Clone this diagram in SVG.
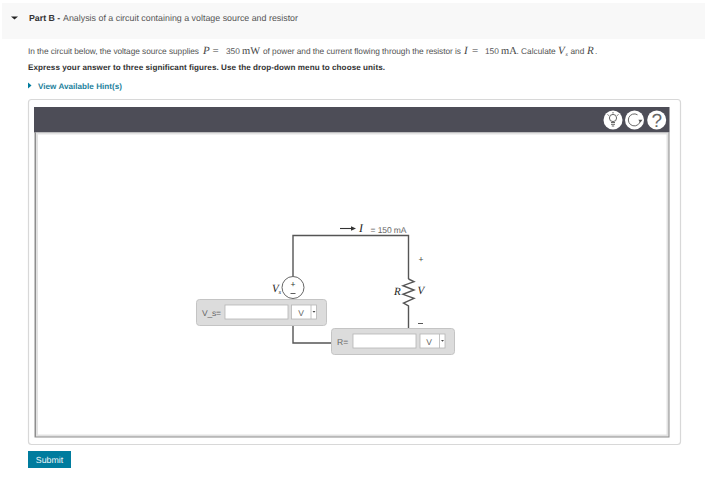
<svg xmlns="http://www.w3.org/2000/svg" width="705" height="480" viewBox="0 0 705 480">
<style>
text{text-rendering:geometricPrecision}
.s{font-family:"Liberation Sans",Arial,sans-serif}
.t{font-family:"Liberation Sans",Arial,sans-serif;font-size:8.3px;fill:#555}
.m{font-family:"Liberation Serif","Times New Roman",serif;fill:#444}
.c{font-family:"Liberation Serif","Times New Roman",serif;fill:#222;font-style:italic}
.b{font-family:"Liberation Sans",Arial,sans-serif;font-size:8.100px;font-weight:bold;fill:#333}
.w{fill:none;stroke:#555;stroke-width:1.4}
.box{fill:#dcdcdc;stroke:#c4c4c4;stroke-width:1}
.f{fill:#fff;stroke:#b5b5b5;stroke-width:.8}
.l{font-family:"Liberation Sans",sans-serif;font-size:8.5px;fill:#666}
.ic{fill:#fff}
.is{fill:none;stroke:#555;stroke-width:.9}
</style>
<rect width="705" height="480" fill="#fff"/>
<rect x="2" y="3" width="703" height="36" fill="#f8f8f8"/>
<path d="M11 16.500h7l-3.500 3z" fill="#222"/>
<text x="29" y="21" class="s" font-size="8.800" font-weight="bold" fill="#333">Part B -</text>
<text x="63" y="21" class="s" font-size="8.850" fill="#555" textLength="235" lengthAdjust="spacing">Analysis of a circuit containing a voltage source and resistor</text>

<text x="28" y="54" class="t" textLength="171" lengthAdjust="spacing">In the circuit below, the voltage source supplies</text>
<text x="203" y="54" class="m" font-size="11" font-style="italic">P</text>
<text x="212.500" y="54" class="m" font-size="11">=</text>
<text x="226" y="54" class="t">350</text>
<text x="242" y="54" class="m" font-size="10.500">mW</text>
<text x="263" y="54" class="t" textLength="198" lengthAdjust="spacing">of power and the current flowing through the resistor is</text>
<text x="464" y="54" class="m" font-size="11" font-style="italic">I</text>
<text x="472" y="54" class="m" font-size="11">=</text>
<text x="485" y="54" class="t">150</text>
<text x="501" y="54" class="m" font-size="10.500">mA</text>
<text x="516.500" y="54" class="t">. Calculate</text>
<text x="558" y="54" class="m" font-size="11" font-style="italic">V</text>
<text x="565.500" y="55.500" class="m" font-size="6" font-style="italic">s</text>
<text x="570.500" y="54" class="t">and</text>
<text x="587" y="54" class="m" font-size="11" font-style="italic">R</text>
<text x="595" y="54" class="t">.</text>
<text x="28" y="70" class="b" textLength="357" lengthAdjust="spacing">Express your answer to three significant figures. Use the drop-down menu to choose units.</text>
<path d="M28 82.500l3.500 3-3.500 3z" fill="#007c9e"/>
<text x="38" y="89" class="s" font-size="8.100" font-weight="bold" fill="#1c7f9c" textLength="84" lengthAdjust="spacing">View Available Hint(s)</text>

<rect x="28.500" y="99.500" width="652" height="345" rx="3" fill="#fff" stroke="#d8d8d8" stroke-width="1.200"/>
<rect x="34" y="107" width="635.500" height="25.500" fill="#4d4d57"/>
<rect x="34.500" y="132.500" width="635" height="305" fill="#8e8e8e"/>
<rect x="36" y="132.500" width="632.500" height="304" fill="#e2e2e2"/>
<rect x="38" y="134.500" width="628.500" height="300" fill="#fff"/>

<g id="toolbar">
<g id="hint"><circle cx="613" cy="120" r="9.500" class="ic"/><circle cx="613" cy="118" r="3.600" class="is"/><path d="M611 122.500h4M611 124.300h4M611.800 126h2.400M607.500 114.500l1.300 1M618.500 114.500l-1.300 1M613 112v1.500" class="is"/></g>
<g id="reset"><circle cx="634.500" cy="120" r="9.500" class="ic"/><path d="M637.500 114.800a6 6 0 1 0 2.800 5.800" class="is" stroke-width="1.100"/><path d="M638.300 119.800h4.200l-2.100 2.600z" fill="#555"/></g>
<g id="help"><circle cx="656.700" cy="120" r="9.500" class="ic"/><text x="656.700" y="127" text-anchor="middle" class="s" font-size="19" fill="#666">?</text></g>
</g>

<g id="connectors">
<path class="w" d="M293 276.500V235.500H408.500V279"/>
<path class="w" d="M293 298.500V343H332"/>
<path class="w" d="M408.500 279L414 281.700L403 285.700L414 290L403 294.300L414 298.300L403.500 303L408.500 306V328"/>
<path d="M340 228.500H353" stroke="#333" stroke-width="1.100" fill="none"/>
<path d="M356 228.500l-5-2.200v4.400z" fill="#333"/>
</g>

<g id="current-label">
<text x="359" y="232" class="c" font-size="12">I</text>
<text x="370.500" y="233" class="l" textLength="36" lengthAdjust="spacing">= 150 mA</text>
</g>

<g id="source">
<circle cx="293" cy="287.500" r="11" fill="#fff" stroke="#666" stroke-width="1"/>
<text x="293" y="287" text-anchor="middle" class="s" font-size="8.500" fill="#333">+</text>
<path d="M290.500 293.500h5" stroke="#333" stroke-width=".8"/>
<text x="272" y="292" class="c" font-size="11">V</text>
<text x="278.500" y="294" class="c" font-size="6.500">s</text>
</g>

<g id="resistor">
<text x="394" y="295" class="c" font-size="11">R</text>
<text x="417.500" y="294" class="c" font-size="11">V</text>
<text x="421" y="262" text-anchor="middle" class="s" font-size="8.500" fill="#444">+</text>
<path d="M418 323.500h5" stroke="#444" stroke-width=".9"/>
</g>

<g id="input-vs">
<rect x="196.500" y="299.500" width="130" height="26" rx="3" class="box"/>
<text x="202" y="316" class="l" textLength="19" lengthAdjust="spacing">V_s=</text>
<rect x="225" y="305" width="63" height="14" class="f"/>
<rect x="291.500" y="305" width="25" height="14" class="f"/>
<path d="M311 305v14" stroke="#b5b5b5" stroke-width=".8"/>
<text x="301" y="316" text-anchor="middle" class="l">V</text>
<path d="M312.500 311h3l-1.500 1.800z" fill="#444"/>
</g>

<g id="input-r">
<rect x="331.500" y="328.500" width="123" height="26" rx="3" class="box"/>
<text x="337" y="345" class="l">R=</text>
<rect x="353" y="334" width="63" height="14" class="f"/>
<rect x="420" y="334" width="25" height="14" class="f"/>
<path d="M439.500 334v14" stroke="#b5b5b5" stroke-width=".8"/>
<text x="429" y="345" text-anchor="middle" class="l">V</text>
<path d="M441 340h3l-1.500 1.800z" fill="#444"/>
</g>

<g id="submit">
<rect x="28" y="451" width="43" height="17" fill="#007c9e"/>
<text x="49.500" y="463" text-anchor="middle" class="s" font-size="8.800" fill="#f0f8fa">Submit</text>
</g>
</svg>
